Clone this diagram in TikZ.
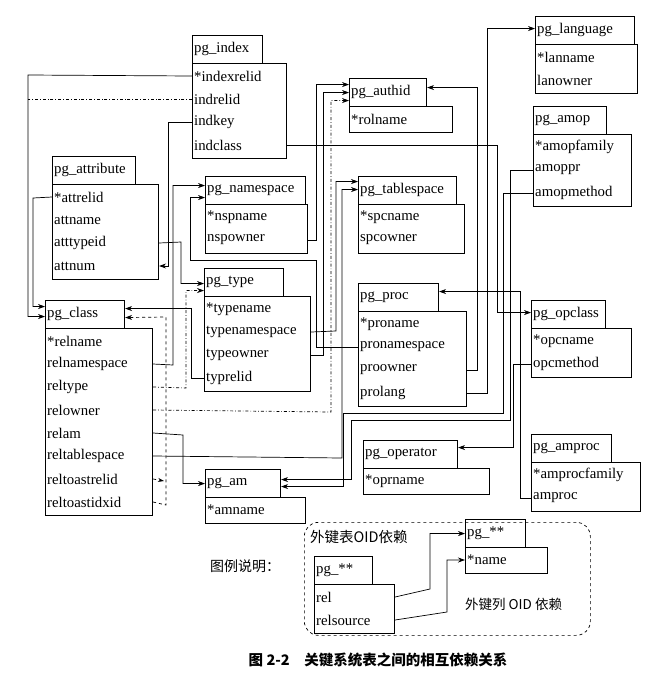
\documentclass[tikz,border=0pt]{standalone}
\usepackage{fontspec}
\setmainfont{Liberation Serif}
\newfontfamily\cjk{Noto Sans CJK SC}
\usetikzlibrary{arrows.meta}
\tikzset{
 box/.style={draw, line width=1.1pt, anchor=north west, inner sep=0pt},
 ttxt/.style={anchor=west, inner sep=2pt, font=\fontsize{14.8}{16}\selectfont},
 rtxt/.style={anchor=west, inner sep=2pt, font=\fontsize{14.8}{16}\selectfont},
 con/.style={line width=0.7pt, -{Stealth[length=7pt,width=5pt]}},
 ln/.style={line width=0.7pt},
}
\newcommand\tbl[8]{%
 \node[box, minimum width=#4pt, minimum height=28pt] (#1) at (#2,#3) {};
 \node[ttxt] (#1-t) at (#2,#3+14) {#7};
 \node[box, minimum width=#5pt, minimum height={(#6*23+3)*1pt}] (#1b) at (#2,#3+28) {};
 \foreach \t [count=\i] in {#8} {\node[rtxt] (#1-\i) at (#2,#3+28+\i*23-10) {\t};}
}
\begin{document}
\begin{tikzpicture}[x=1pt,y=-1pt]
\useasboundingbox (0,0) rectangle (656,681);
\tbl{index}{192}{35}{70}{94}{4}{pg\_index}{*indexrelid,indrelid,indkey,indclass}
\tbl{language}{535}{16}{99}{102}{2}{pg\_language}{*lanname,lanowner}
\tbl{authid}{349}{78}{77}{103}{1}{pg\_authid}{*rolname}
\tbl{amop}{533}{106}{73}{98}{3}{pg\_amop}{*amopfamily,amoppr,amopmethod}
\tbl{attribute}{52}{156}{83}{106}{4}{pg\_attribute}{*attrelid,attname,atttypeid,attnum}
\tbl{namespace}{205}{176}{100}{102}{2}{pg\_namespace}{*nspname,nspowner}
\tbl{tablespace}{358}{176}{98}{106}{2}{pg\_tablespace}{*spcname,spcowner}
\tbl{type}{204}{268}{79}{106}{4}{pg\_type}{*typename,typenamespace,typeowner,typrelid}
\tbl{class}{45}{300}{79}{107}{8}{pg\_class}{*relname,relnamespace,reltype,relowner,relam,reltablespace,reltoastrelid,reltoastidxid}
\tbl{proc}{358}{283}{80}{108}{4}{pg\_proc}{*proname,pronamespace,proowner,prolang}
\tbl{opclass}{531}{300}{74}{100}{2}{pg\_opclass}{*opcname,opcmethod}
\tbl{operator}{363}{440}{94}{126}{1}{pg\_operator}{*oprname}
\tbl{amproc}{531}{434}{80}{109}{2}{pg\_amproc}{*amprocfamily,amproc}
\tbl{am}{205}{469}{75}{100}{1}{pg\_am}{*amname}
% connectors
\draw[con] (index-1.west) -- (28,75) |- ([yshift=-2pt]class.west);
\draw[ln,dashdotted] (index-2.west) -- (28,99);
\draw[con] (attribute-1.west) -- (33,198) |- ([yshift=8pt]class.west);
\draw[con] (index-3.west) -- (168,122) |- (attributeb.east |- attribute-4);
\draw[con] (classb.east |- class-2) -- (173,365) |- ([yshift=5pt]namespace.west);
\draw[con] (proc-2.west) -- (316,347) -- (316,260) -- (190,260) |- ([yshift=-7pt]namespace.west);
\draw[con] (attributeb.east |- attribute-3) -- (181,242) |- ([yshift=-1pt]type.west);
\draw[con,dashdotted] (classb.east |- class-3) -- (186,388) |- ([yshift=-8pt]type.west);
\draw[con] (type-4.west) -- (191,378) |- ([yshift=6pt]class.east);
\draw[ln,dashed,-{Stealth[length=6pt,width=4pt]}] (classb.east |- class-7) -- (164,481);
\draw[con,dashed] (classb.east |- class-8) -- (166,505) -- (166,317) -- ([yshift=-3pt]class.east);
\draw[con,dashdotted] (classb.east |- class-4) -- (331,412) |- ([yshift=-8pt]authid.west);
\draw[con] (namespaceb.east |- namespace-2) -- (316,240) |- ([yshift=8pt]authid.west);
\draw[con] (typeb.east |- type-3) -- (323,355) |- (authid.west);
\draw[con] (typeb.east |- type-2) -- (336,331) |- ([yshift=9pt]tablespace.west);
\draw[con] (classb.east |- class-6) -- (342,458) |- ([yshift=1pt]tablespace.west);
\draw[con] (classb.east |- class-5) -- (183,435) |- (am.west);
\draw[con] (procb.east |- proc-3) -- (477,370) |- ([yshift=5pt]authid.east);
\draw[con] (procb.east |- proc-4) -- (487,393) |- ([yshift=2pt]language.west);
\draw[con] (indexb.east |- index-4) -- (497,145) |- ([yshift=2pt]opclass.west);
\draw[con] (amproc-2.west) -- (520,498) |- ([yshift=6pt]proc.east);
\draw[con] (opclass-2.west) -- (513,364) |- ([yshift=7pt]operator.east);
\draw[con] (amop-2.west) -- (510,170) -- (510,420) -- (351,420) |- ([yshift=4pt]am.east);
\draw[con] (amop-3.west) -- (503,193) -- (503,413) -- (343,413) |- ([yshift=-3pt]am.east);
% legend
\node[draw, dashed, line width=0.7pt, rounded corners=14pt, anchor=north west, minimum width=286pt, minimum height=113pt] (legend) at (304,522) {};
\node[anchor=west, inner sep=0pt, font=\cjk\fontsize{14.5}{15}\selectfont] (lt1) at (310,537) {外键表OID依赖};
\node[anchor=west, inner sep=0pt, font=\cjk\fontsize{13.5}{15}\selectfont] (lt2) at (465,604) {外键列 OID 依赖};
\node[anchor=west, inner sep=0pt, font=\cjk\fontsize{14}{15}\selectfont] (lt3) at (210,566) {图例说明：};
\tbl{la}{314}{556}{58}{80}{2}{pg\_**}{rel,relsource}
\tbl{lb}{465}{519}{60}{82}{1}{pg\_**}{*name}
\draw[con] (lab.east |- la-1) -- (430,589) |- (lb.west);
\draw[con] (lab.east |- la-2) -- (447,612) |- (lb-1.west);
\node[inner sep=0pt, font=\cjk\bfseries\fontsize{14.5}{16}\selectfont] (cap) at (378,660) {图 2-2\quad 关键系统表之间的相互依赖关系};
\end{tikzpicture}
\end{document}
